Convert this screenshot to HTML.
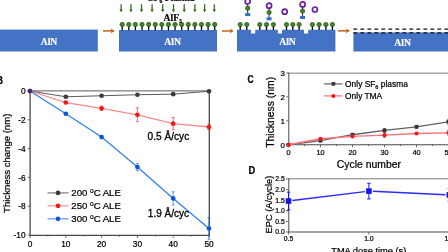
<!DOCTYPE html><html><head><meta charset="utf-8"><title>AlN ALE figure</title>
<style>html,body{margin:0;padding:0;background:#fff;}body{width:448px;height:252px;overflow:hidden;}svg{display:block;}text{font-family:"Liberation Sans",sans-serif;fill:#000;stroke:#000;stroke-width:0.22px;}.ser{font-family:"Liberation Serif",serif;font-weight:bold;}.tk{font-size:8.3px;}</style></head><body>
<svg width="448" height="252" viewBox="0 0 448 252">
<rect width="448" height="252" fill="#fff"/>
<rect x="0" y="29.6" width="97.80" height="21.90" fill="#4472c4"/>
<text class="ser" x="49.0" y="44.5" font-size="9.7" text-anchor="middle" style="fill:#fff;stroke:#fff;stroke-width:0.15px">AlN</text>
<path d="M103 30.9H112.6" stroke="#c55a11" stroke-width="1.45" fill="none"/>
<path d="M114.89999999999999 30.9l-4.2 -2.35l1 2.35l-1 2.35z" fill="#c55a11"/>
<rect x="119" y="30" width="98.00" height="21.50" fill="#4472c4"/>
<text class="ser" x="172.7" y="44.5" font-size="9.7" text-anchor="middle" style="fill:#fff;stroke:#fff;stroke-width:0.15px">AlN</text>
<path d="M122.20 26.0V30.3" stroke="#000" stroke-width="1.3"/>
<circle cx="122.20" cy="24.5" r="2.15" fill="#44862a" stroke="#1f4a10" stroke-width="0.7"/>
<path d="M128.81 26.0V30.3" stroke="#000" stroke-width="1.3"/>
<circle cx="128.81" cy="24.5" r="2.15" fill="#44862a" stroke="#1f4a10" stroke-width="0.7"/>
<path d="M135.41 26.0V30.3" stroke="#000" stroke-width="1.3"/>
<circle cx="135.41" cy="24.5" r="2.15" fill="#44862a" stroke="#1f4a10" stroke-width="0.7"/>
<path d="M142.02 26.0V30.3" stroke="#000" stroke-width="1.3"/>
<circle cx="142.02" cy="24.5" r="2.15" fill="#44862a" stroke="#1f4a10" stroke-width="0.7"/>
<path d="M148.63 26.0V30.3" stroke="#000" stroke-width="1.3"/>
<circle cx="148.63" cy="24.5" r="2.15" fill="#44862a" stroke="#1f4a10" stroke-width="0.7"/>
<path d="M155.24 26.0V30.3" stroke="#000" stroke-width="1.3"/>
<circle cx="155.24" cy="24.5" r="2.15" fill="#44862a" stroke="#1f4a10" stroke-width="0.7"/>
<path d="M161.84 26.0V30.3" stroke="#000" stroke-width="1.3"/>
<circle cx="161.84" cy="24.5" r="2.15" fill="#44862a" stroke="#1f4a10" stroke-width="0.7"/>
<path d="M168.45 26.0V30.3" stroke="#000" stroke-width="1.3"/>
<circle cx="168.45" cy="24.5" r="2.15" fill="#44862a" stroke="#1f4a10" stroke-width="0.7"/>
<path d="M175.06 26.0V30.3" stroke="#000" stroke-width="1.3"/>
<circle cx="175.06" cy="24.5" r="2.15" fill="#44862a" stroke="#1f4a10" stroke-width="0.7"/>
<path d="M181.66 26.0V30.3" stroke="#000" stroke-width="1.3"/>
<circle cx="181.66" cy="24.5" r="2.15" fill="#44862a" stroke="#1f4a10" stroke-width="0.7"/>
<path d="M188.27 26.0V30.3" stroke="#000" stroke-width="1.3"/>
<circle cx="188.27" cy="24.5" r="2.15" fill="#44862a" stroke="#1f4a10" stroke-width="0.7"/>
<path d="M194.88 26.0V30.3" stroke="#000" stroke-width="1.3"/>
<circle cx="194.88" cy="24.5" r="2.15" fill="#44862a" stroke="#1f4a10" stroke-width="0.7"/>
<path d="M201.48 26.0V30.3" stroke="#000" stroke-width="1.3"/>
<circle cx="201.48" cy="24.5" r="2.15" fill="#44862a" stroke="#1f4a10" stroke-width="0.7"/>
<path d="M208.09 26.0V30.3" stroke="#000" stroke-width="1.3"/>
<circle cx="208.09" cy="24.5" r="2.15" fill="#44862a" stroke="#1f4a10" stroke-width="0.7"/>
<path d="M214.70 26.0V30.3" stroke="#000" stroke-width="1.3"/>
<circle cx="214.70" cy="24.5" r="2.15" fill="#44862a" stroke="#1f4a10" stroke-width="0.7"/>
<path d="M121.10 4.2V10.5" stroke="#2f6e1a" stroke-width="1.3"/>
<path d="M121.10 12.3l-1.75 -2.9h3.5z" fill="#2f6e1a"/>
<path d="M131.00 4.2V10.5" stroke="#2f6e1a" stroke-width="1.3"/>
<path d="M131.00 12.3l-1.75 -2.9h3.5z" fill="#2f6e1a"/>
<path d="M141.50 4.2V10.5" stroke="#2f6e1a" stroke-width="1.3"/>
<path d="M141.50 12.3l-1.75 -2.9h3.5z" fill="#2f6e1a"/>
<path d="M152.10 4.2V10.5" stroke="#2f6e1a" stroke-width="1.3"/>
<path d="M152.10 12.3l-1.75 -2.9h3.5z" fill="#2f6e1a"/>
<path d="M162.70 4.2V10.5" stroke="#2f6e1a" stroke-width="1.3"/>
<path d="M162.70 12.3l-1.75 -2.9h3.5z" fill="#2f6e1a"/>
<path d="M173.50 4.2V10.5" stroke="#2f6e1a" stroke-width="1.3"/>
<path d="M173.50 12.3l-1.75 -2.9h3.5z" fill="#2f6e1a"/>
<path d="M184.20 4.2V10.5" stroke="#2f6e1a" stroke-width="1.3"/>
<path d="M184.20 12.3l-1.75 -2.9h3.5z" fill="#2f6e1a"/>
<path d="M194.90 4.2V10.5" stroke="#2f6e1a" stroke-width="1.3"/>
<path d="M194.90 12.3l-1.75 -2.9h3.5z" fill="#2f6e1a"/>
<path d="M204.60 4.2V10.5" stroke="#2f6e1a" stroke-width="1.3"/>
<path d="M204.60 12.3l-1.75 -2.9h3.5z" fill="#2f6e1a"/>
<path d="M214.30 4.2V10.5" stroke="#2f6e1a" stroke-width="1.3"/>
<path d="M214.30 12.3l-1.75 -2.9h3.5z" fill="#2f6e1a"/>
<text class="ser" x="172.7" y="20.7" font-size="9.6" text-anchor="middle" style="stroke-width:0.2px">AlF<tspan font-size="5.6" dy="2">3</tspan></text>
<text class="ser" x="171.4" y="1.1" font-size="9.6" text-anchor="middle">SF<tspan font-size="5.6" dy="2">6</tspan><tspan dy="-2"> Plasma</tspan></text>
<path d="M222 31.0H231.6" stroke="#c55a11" stroke-width="1.45" fill="none"/>
<path d="M233.9 31.0l-4.2 -2.35l1 2.35l-1 2.35z" fill="#c55a11"/>
<path d="M237 29.8H251V33.4H255.2V29.8H277.8V33.4H282V29.8H304V33.4H308.2V29.8H335.4V51.5H237z" fill="#4472c4"/>
<text class="ser" x="287.5" y="44.5" font-size="9.7" text-anchor="middle" style="fill:#fff;stroke:#fff;stroke-width:0.15px">AlN</text>
<path d="M240.20 26.05V30.1" stroke="#000" stroke-width="1.3"/>
<circle cx="240.20" cy="24.55" r="2.15" fill="#44862a" stroke="#1f4a10" stroke-width="0.7"/>
<path d="M246.80 26.05V30.1" stroke="#000" stroke-width="1.3"/>
<circle cx="246.80" cy="24.55" r="2.15" fill="#44862a" stroke="#1f4a10" stroke-width="0.7"/>
<path d="M259.80 26.05V30.1" stroke="#000" stroke-width="1.3"/>
<circle cx="259.80" cy="24.55" r="2.15" fill="#44862a" stroke="#1f4a10" stroke-width="0.7"/>
<path d="M266.50 26.05V30.1" stroke="#000" stroke-width="1.3"/>
<circle cx="266.50" cy="24.55" r="2.15" fill="#44862a" stroke="#1f4a10" stroke-width="0.7"/>
<path d="M273.40 26.05V30.1" stroke="#000" stroke-width="1.3"/>
<circle cx="273.40" cy="24.55" r="2.15" fill="#44862a" stroke="#1f4a10" stroke-width="0.7"/>
<path d="M286.50 26.05V30.1" stroke="#000" stroke-width="1.3"/>
<circle cx="286.50" cy="24.55" r="2.15" fill="#44862a" stroke="#1f4a10" stroke-width="0.7"/>
<path d="M292.80 26.05V30.1" stroke="#000" stroke-width="1.3"/>
<circle cx="292.80" cy="24.55" r="2.15" fill="#44862a" stroke="#1f4a10" stroke-width="0.7"/>
<path d="M299.10 26.05V30.1" stroke="#000" stroke-width="1.3"/>
<circle cx="299.10" cy="24.55" r="2.15" fill="#44862a" stroke="#1f4a10" stroke-width="0.7"/>
<path d="M312.40 26.05V30.1" stroke="#000" stroke-width="1.3"/>
<circle cx="312.40" cy="24.55" r="2.15" fill="#44862a" stroke="#1f4a10" stroke-width="0.7"/>
<path d="M319.10 26.05V30.1" stroke="#000" stroke-width="1.3"/>
<circle cx="319.10" cy="24.55" r="2.15" fill="#44862a" stroke="#1f4a10" stroke-width="0.7"/>
<path d="M325.90 26.05V30.1" stroke="#000" stroke-width="1.3"/>
<circle cx="325.90" cy="24.55" r="2.15" fill="#44862a" stroke="#1f4a10" stroke-width="0.7"/>
<path d="M332.40 26.05V30.1" stroke="#000" stroke-width="1.3"/>
<circle cx="332.40" cy="24.55" r="2.15" fill="#44862a" stroke="#1f4a10" stroke-width="0.7"/>
<path d="M247.7 3.5V13.5" stroke="#111" stroke-width="0.9"/>
<rect x="245.2" y="13.1" width="5" height="3" fill="#2f6fd0"/>
<circle cx="247.7" cy="8.2" r="2.15" fill="#44862a" stroke="#1f4a10" stroke-width="0.7"/>
<circle cx="247.7" cy="1.5" r="2.5" fill="#fff" stroke="#6a1fa0" stroke-width="1.7"/>
<path d="M269.1 7.7V17.7" stroke="#111" stroke-width="0.9"/>
<rect x="266.6" y="17.3" width="5" height="3" fill="#2f6fd0"/>
<circle cx="269.1" cy="12.4" r="2.15" fill="#44862a" stroke="#1f4a10" stroke-width="0.7"/>
<circle cx="269.1" cy="5.7" r="2.5" fill="#fff" stroke="#6a1fa0" stroke-width="1.7"/>
<path d="M302.6 6.4V16.4" stroke="#111" stroke-width="0.9"/>
<rect x="300.1" y="16.0" width="5" height="3" fill="#2f6fd0"/>
<circle cx="302.6" cy="11.100000000000001" r="2.15" fill="#44862a" stroke="#1f4a10" stroke-width="0.7"/>
<circle cx="302.6" cy="4.4" r="2.5" fill="#fff" stroke="#6a1fa0" stroke-width="1.7"/>
<circle cx="284.7" cy="11.7" r="2.5" fill="#fff" stroke="#6a1fa0" stroke-width="1.7"/>
<circle cx="314.9" cy="9.5" r="2.5" fill="#fff" stroke="#6a1fa0" stroke-width="1.7"/>
<path d="M338 30.85H347.7" stroke="#c55a11" stroke-width="1.45" fill="none"/>
<path d="M350.0 30.85l-4.2 -2.35l1 2.35l-1 2.35z" fill="#c55a11"/>
<rect x="353.4" y="32.4" width="94.60" height="19.10" fill="#4472c4"/>
<text class="ser" x="402.6" y="45.7" font-size="9.7" text-anchor="middle" style="fill:#fff;stroke:#fff;stroke-width:0.15px">AlN</text>
<path d="M353.4 29.15H448M353.4 32.9H448" stroke="#111" stroke-width="1.15" stroke-dasharray="3.8 3.2" fill="none"/>
<path d="M30.1 90.9H209.3" stroke="#484848" stroke-width="0.9" fill="none"/>
<path d="M209.3 90.5V235.3H30.1V90.5" stroke="#4a4a4a" stroke-width="1.3" fill="none"/>
<path d="M30.00 235.00L30.00 238.00" stroke="#4a4a4a" stroke-width="0.8" fill="none"/>
<text class="tk" x="30.00" y="247" text-anchor="middle">0</text>
<path d="M47.90 235.00L47.90 236.60" stroke="#4a4a4a" stroke-width="0.8" fill="none"/>
<path d="M65.80 235.00L65.80 238.00" stroke="#4a4a4a" stroke-width="0.8" fill="none"/>
<text class="tk" x="65.80" y="247" text-anchor="middle">10</text>
<path d="M83.70 235.00L83.70 236.60" stroke="#4a4a4a" stroke-width="0.8" fill="none"/>
<path d="M101.60 235.00L101.60 238.00" stroke="#4a4a4a" stroke-width="0.8" fill="none"/>
<text class="tk" x="101.60" y="247" text-anchor="middle">20</text>
<path d="M119.50 235.00L119.50 236.60" stroke="#4a4a4a" stroke-width="0.8" fill="none"/>
<path d="M137.40 235.00L137.40 238.00" stroke="#4a4a4a" stroke-width="0.8" fill="none"/>
<text class="tk" x="137.40" y="247" text-anchor="middle">30</text>
<path d="M155.30 235.00L155.30 236.60" stroke="#4a4a4a" stroke-width="0.8" fill="none"/>
<path d="M173.20 235.00L173.20 238.00" stroke="#4a4a4a" stroke-width="0.8" fill="none"/>
<text class="tk" x="173.20" y="247" text-anchor="middle">40</text>
<path d="M191.10 235.00L191.10 236.60" stroke="#4a4a4a" stroke-width="0.8" fill="none"/>
<path d="M209.00 235.00L209.00 238.00" stroke="#4a4a4a" stroke-width="0.8" fill="none"/>
<text class="tk" x="209.00" y="247" text-anchor="middle">50</text>
<path d="M27.80 91.00L30.00 91.00" stroke="#4a4a4a" stroke-width="0.9" fill="none"/>
<text class="tk" x="25.6" y="94.15" text-anchor="end">0</text>
<path d="M27.80 119.80L30.00 119.80" stroke="#4a4a4a" stroke-width="0.9" fill="none"/>
<text class="tk" x="25.6" y="122.95" text-anchor="end">-2</text>
<path d="M27.80 148.60L30.00 148.60" stroke="#4a4a4a" stroke-width="0.9" fill="none"/>
<text class="tk" x="25.6" y="151.75" text-anchor="end">-4</text>
<path d="M27.80 177.40L30.00 177.40" stroke="#4a4a4a" stroke-width="0.9" fill="none"/>
<text class="tk" x="25.6" y="180.55" text-anchor="end">-6</text>
<path d="M27.80 206.20L30.00 206.20" stroke="#4a4a4a" stroke-width="0.9" fill="none"/>
<text class="tk" x="25.6" y="209.35" text-anchor="end">-8</text>
<path d="M27.80 235.00L30.00 235.00" stroke="#4a4a4a" stroke-width="0.9" fill="none"/>
<text class="tk" x="25.6" y="238.15" text-anchor="end">-10</text>
<text x="0" y="0" font-size="9.55" text-anchor="middle" transform="translate(10.4,163.3) rotate(-90)">Thickness change (nm)</text>
<path d="M30.00 91.00L65.80 96.76L101.60 95.75L137.40 94.74L173.20 94.17L209.00 91.29" stroke="#5a5a5a" stroke-width="1.0" fill="none"/>
<circle cx="30.00" cy="91.00" r="2.35" fill="#3a3a3a"/>
<circle cx="65.80" cy="96.76" r="2.35" fill="#3a3a3a"/>
<circle cx="101.60" cy="95.75" r="2.35" fill="#3a3a3a"/>
<circle cx="137.40" cy="94.74" r="2.35" fill="#3a3a3a"/>
<circle cx="173.20" cy="94.17" r="2.35" fill="#3a3a3a"/>
<circle cx="209.00" cy="91.29" r="2.35" fill="#3a3a3a"/>
<path d="M30.00 91.00L65.80 102.52L101.60 108.28L137.40 114.76L173.20 123.69L209.00 127.00" stroke="#ff8a8a" stroke-width="1.28" fill="none"/>
<circle cx="30.00" cy="91.00" r="2.35" fill="#f01818"/>
<path d="M65.80 101.37V103.67M64.30 101.37h3M64.30 103.67h3" stroke="#f01818" stroke-width="0.6" fill="none"/>
<circle cx="65.80" cy="102.52" r="2.35" fill="#f01818"/>
<path d="M101.60 106.12V110.44M100.10 106.12h3M100.10 110.44h3" stroke="#f01818" stroke-width="0.6" fill="none"/>
<circle cx="101.60" cy="108.28" r="2.35" fill="#f01818"/>
<path d="M137.40 107.85V121.67M135.90 107.85h3M135.90 121.67h3" stroke="#f01818" stroke-width="0.6" fill="none"/>
<circle cx="137.40" cy="114.76" r="2.35" fill="#f01818"/>
<path d="M173.20 117.64V129.74M171.70 117.64h3M171.70 129.74h3" stroke="#f01818" stroke-width="0.6" fill="none"/>
<circle cx="173.20" cy="123.69" r="2.35" fill="#f01818"/>
<path d="M209.00 124.12V129.88M207.50 124.12h3M207.50 129.88h3" stroke="#f01818" stroke-width="0.6" fill="none"/>
<circle cx="209.00" cy="127.00" r="2.35" fill="#f01818"/>
<path d="M30.00 91.00L65.80 113.75L101.60 137.08L137.40 167.03L173.20 198.42L209.00 228.52" stroke="#2f80ee" stroke-width="1.28" fill="none"/>
<circle cx="30.00" cy="91.00" r="2.35" fill="#0a55d8"/>
<path d="M65.80 113.03V114.47M64.30 113.03h3M64.30 114.47h3" stroke="#0a55d8" stroke-width="0.6" fill="none"/>
<circle cx="65.80" cy="113.75" r="2.35" fill="#0a55d8"/>
<path d="M101.60 135.64V138.52M100.10 135.64h3M100.10 138.52h3" stroke="#0a55d8" stroke-width="0.6" fill="none"/>
<circle cx="101.60" cy="137.08" r="2.35" fill="#0a55d8"/>
<path d="M137.40 163.43V170.63M135.90 163.43h3M135.90 170.63h3" stroke="#0a55d8" stroke-width="0.6" fill="none"/>
<circle cx="137.40" cy="167.03" r="2.35" fill="#0a55d8"/>
<path d="M173.20 191.80V205.05M171.70 191.80h3M171.70 205.05h3" stroke="#0a55d8" stroke-width="0.6" fill="none"/>
<circle cx="173.20" cy="198.42" r="2.35" fill="#0a55d8"/>
<path d="M209.00 217.72V239.32M207.50 217.72h3M207.50 239.32h3" stroke="#0a55d8" stroke-width="0.6" fill="none"/>
<circle cx="209.00" cy="228.52" r="2.35" fill="#0a55d8"/>
<circle cx="30.00" cy="91.00" r="1.7" fill="#7a1238"/>
<path d="M47.50 192.90L68.50 192.90" stroke="#8a8a8a" stroke-width="1.35" fill="none"/>
<circle cx="58" cy="192.90" r="2.35" fill="#3a3a3a"/>
<text x="71.3" y="196.20" font-size="9.6">200 <tspan font-size="6.6" dy="-3.2">o</tspan><tspan dy="3.2">C ALE</tspan></text>
<path d="M47.50 205.85L68.50 205.85" stroke="#ff9c9c" stroke-width="1.35" fill="none"/>
<circle cx="58" cy="205.85" r="2.35" fill="#f01818"/>
<text x="71.3" y="209.15" font-size="9.6">250 <tspan font-size="6.6" dy="-3.2">o</tspan><tspan dy="3.2">C ALE</tspan></text>
<path d="M47.50 218.80L68.50 218.80" stroke="#6aa4f4" stroke-width="1.35" fill="none"/>
<circle cx="58" cy="218.80" r="2.35" fill="#0a55d8"/>
<text x="71.3" y="222.10" font-size="9.6">300 <tspan font-size="6.6" dy="-3.2">o</tspan><tspan dy="3.2">C ALE</tspan></text>
<text x="147.6" y="139.7" font-size="10.15" style="stroke-width:0.3px">0.5 Å/cyc</text>
<text x="147.8" y="216.7" font-size="10.05" style="stroke-width:0.3px">1.9 Å/cyc</text>
<text transform="translate(-3.5,83.8) scale(0.87,1)" font-size="10.4" font-weight="bold">B</text>
<path d="M288.5 73.15H449" stroke="#6a6a6a" stroke-width="0.9" fill="none"/>
<path d="M288.8 72.7V144.75" stroke="#4a4a4a" stroke-width="1.0" fill="none"/>
<path d="M288.3 144.75H449" stroke="#4a4a4a" stroke-width="1.15" fill="none"/>
<path d="M288.50 144.75L288.50 147.35" stroke="#4a4a4a" stroke-width="0.8" fill="none"/>
<text font-size="7.3" x="288.50" y="154.9" text-anchor="middle">0</text>
<path d="M304.50 144.75L304.50 146.15" stroke="#4a4a4a" stroke-width="0.8" fill="none"/>
<path d="M320.50 144.75L320.50 147.35" stroke="#4a4a4a" stroke-width="0.8" fill="none"/>
<text font-size="7.3" x="320.50" y="154.9" text-anchor="middle">10</text>
<path d="M336.50 144.75L336.50 146.15" stroke="#4a4a4a" stroke-width="0.8" fill="none"/>
<path d="M352.50 144.75L352.50 147.35" stroke="#4a4a4a" stroke-width="0.8" fill="none"/>
<text font-size="7.3" x="352.50" y="154.9" text-anchor="middle">20</text>
<path d="M368.50 144.75L368.50 146.15" stroke="#4a4a4a" stroke-width="0.8" fill="none"/>
<path d="M384.50 144.75L384.50 147.35" stroke="#4a4a4a" stroke-width="0.8" fill="none"/>
<text font-size="7.3" x="384.50" y="154.9" text-anchor="middle">30</text>
<path d="M400.50 144.75L400.50 146.15" stroke="#4a4a4a" stroke-width="0.8" fill="none"/>
<path d="M416.50 144.75L416.50 147.35" stroke="#4a4a4a" stroke-width="0.8" fill="none"/>
<text font-size="7.3" x="416.50" y="154.9" text-anchor="middle">40</text>
<path d="M432.50 144.75L432.50 146.15" stroke="#4a4a4a" stroke-width="0.8" fill="none"/>
<path d="M448.50 144.75L448.50 147.35" stroke="#4a4a4a" stroke-width="0.8" fill="none"/>
<text font-size="7.3" x="448.50" y="154.9" text-anchor="middle">50</text>
<path d="M286.30 144.75L288.50 144.75" stroke="#4a4a4a" stroke-width="0.9" fill="none"/>
<text font-size="7.9" x="284.8" y="147.65" text-anchor="end">0</text>
<path d="M286.30 120.83L288.50 120.83" stroke="#4a4a4a" stroke-width="0.9" fill="none"/>
<text font-size="7.9" x="284.8" y="123.73" text-anchor="end">1</text>
<path d="M286.30 96.92L288.50 96.92" stroke="#4a4a4a" stroke-width="0.9" fill="none"/>
<text font-size="7.9" x="284.8" y="99.82" text-anchor="end">2</text>
<path d="M286.30 73.00L288.50 73.00" stroke="#4a4a4a" stroke-width="0.9" fill="none"/>
<text font-size="7.9" x="284.8" y="75.90" text-anchor="end">3</text>
<text x="0" y="0" font-size="10.4" text-anchor="middle" transform="translate(273.9,112.3) rotate(-90)">Thickness (nm)</text>
<text x="368.9" y="167.6" font-size="10.4" text-anchor="middle">Cycle number</text>
<path d="M288.50 144.75L320.50 140.68L352.50 134.71L384.50 130.40L416.50 126.81L448.50 121.79" stroke="#606060" stroke-width="1.35" fill="none"/>
<rect x="286.60" y="142.85" width="3.8" height="3.8" fill="#333"/>
<rect x="318.60" y="138.78" width="3.8" height="3.8" fill="#333"/>
<rect x="350.60" y="132.81" width="3.8" height="3.8" fill="#333"/>
<path d="M384.50 128.49V132.31M383.20 128.49h2.6M383.20 132.31h2.6" stroke="#333" stroke-width="0.6" fill="none"/>
<rect x="382.60" y="128.50" width="3.8" height="3.8" fill="#333"/>
<path d="M416.50 125.38V128.25M415.20 125.38h2.6M415.20 128.25h2.6" stroke="#333" stroke-width="0.6" fill="none"/>
<rect x="414.60" y="124.91" width="3.8" height="3.8" fill="#333"/>
<path d="M448.50 119.40V124.18M447.20 119.40h2.6M447.20 124.18h2.6" stroke="#333" stroke-width="0.6" fill="none"/>
<rect x="446.60" y="119.89" width="3.8" height="3.8" fill="#333"/>
<path d="M288.50 144.75L320.50 138.77L352.50 136.38L384.50 135.18L416.50 133.51L448.50 132.79" stroke="#ff7078" stroke-width="1.35" fill="none"/>
<circle cx="288.50" cy="144.75" r="2.1" fill="#f01818"/>
<path d="M320.50 137.81V139.73M319.20 137.81h2.6M319.20 139.73h2.6" stroke="#f01818" stroke-width="0.6" fill="none"/>
<circle cx="320.50" cy="138.77" r="2.1" fill="#f01818"/>
<path d="M352.50 135.42V137.34M351.20 135.42h2.6M351.20 137.34h2.6" stroke="#f01818" stroke-width="0.6" fill="none"/>
<circle cx="352.50" cy="136.38" r="2.1" fill="#f01818"/>
<path d="M384.50 132.79V137.57M383.20 132.79h2.6M383.20 137.57h2.6" stroke="#f01818" stroke-width="0.6" fill="none"/>
<circle cx="384.50" cy="135.18" r="2.1" fill="#f01818"/>
<path d="M416.50 132.55V134.47M415.20 132.55h2.6M415.20 134.47h2.6" stroke="#f01818" stroke-width="0.6" fill="none"/>
<circle cx="416.50" cy="133.51" r="2.1" fill="#f01818"/>
<path d="M448.50 130.40V135.18M447.20 130.40h2.6M447.20 135.18h2.6" stroke="#f01818" stroke-width="0.6" fill="none"/>
<circle cx="448.50" cy="132.79" r="2.1" fill="#f01818"/>
<path d="M324.00 83.90L342.60 83.90" stroke="#7a7a7a" stroke-width="1.4" fill="none"/>
<rect x="331.6" y="82.1" width="3.6" height="3.6" fill="#333"/>
<path d="M324.00 95.90L342.60 95.90" stroke="#ff8088" stroke-width="1.4" fill="none"/>
<circle cx="333.4" cy="95.9" r="2" fill="#f01818"/>
<text x="345.1" y="86.9" font-size="8.4">Only SF<tspan font-size="5.6" dy="1.6">6</tspan><tspan dy="-1.6"> plasma</tspan></text>
<text x="345.1" y="98.9" font-size="8.4">Only TMA</text>
<text transform="translate(247.4,83.0) scale(0.82,1)" font-size="10.3" font-weight="bold">C</text>
<path d="M288.5 178.8H449" stroke="#6a6a6a" stroke-width="0.9" fill="none"/>
<path d="M288.8 178.4V232.0" stroke="#4a4a4a" stroke-width="1.0" fill="none"/>
<path d="M288.3 232.0H449" stroke="#4a4a4a" stroke-width="1.15" fill="none"/>
<path d="M285.90 232.00L288.50 232.00" stroke="#4a4a4a" stroke-width="0.8" fill="none"/>
<text font-size="6.8" x="284.8" y="234.40" text-anchor="end">0.0</text>
<path d="M285.90 221.40L288.50 221.40" stroke="#4a4a4a" stroke-width="0.8" fill="none"/>
<text font-size="6.8" x="284.8" y="223.80" text-anchor="end">0.5</text>
<path d="M285.90 210.80L288.50 210.80" stroke="#4a4a4a" stroke-width="0.8" fill="none"/>
<text font-size="6.8" x="284.8" y="213.20" text-anchor="end">1.0</text>
<path d="M285.90 200.20L288.50 200.20" stroke="#4a4a4a" stroke-width="0.8" fill="none"/>
<text font-size="6.8" x="284.8" y="202.60" text-anchor="end">1.5</text>
<path d="M285.90 189.60L288.50 189.60" stroke="#4a4a4a" stroke-width="0.8" fill="none"/>
<text font-size="6.8" x="284.8" y="192.00" text-anchor="end">2.0</text>
<path d="M285.90 179.00L288.50 179.00" stroke="#4a4a4a" stroke-width="0.8" fill="none"/>
<text font-size="6.8" x="284.8" y="181.40" text-anchor="end">2.5</text>
<path d="M288.50 232.00L288.50 234.60" stroke="#4a4a4a" stroke-width="0.8" fill="none"/>
<text font-size="6.8" x="288.50" y="241.1" text-anchor="middle">0.5</text>
<path d="M368.90 232.00L368.90 234.60" stroke="#4a4a4a" stroke-width="0.8" fill="none"/>
<text font-size="6.8" x="368.90" y="241.1" text-anchor="middle">1.0</text>
<path d="M449.30 232.00L449.30 234.60" stroke="#4a4a4a" stroke-width="0.8" fill="none"/>
<text font-size="6.8" x="449.30" y="241.1" text-anchor="middle">1.5</text>
<text x="0" y="0" font-size="9.3" text-anchor="middle" transform="translate(272.3,204.6) rotate(-90)">EPC (A/cycle)</text>
<text x="368.8" y="253.9" font-size="9.25" text-anchor="middle">TMA dose time (s)</text>
<path d="M292.47 200.56L364.93 191.58" stroke="#2a2aff" stroke-width="1.4" fill="none"/>
<path d="M372.90 191.27L445.30 194.71" stroke="#2a2aff" stroke-width="1.4" fill="none"/>
<path d="M288.50 192.14V209.95M286.80 192.14h3.4M286.80 209.95h3.4" stroke="#1414f5" stroke-width="1" fill="none"/>
<rect x="285.70" y="198.25" width="5.6" height="5.6" fill="#1414f5"/>
<path d="M368.90 183.24V198.93M367.20 183.24h3.4M367.20 198.93h3.4" stroke="#1414f5" stroke-width="1" fill="none"/>
<rect x="366.10" y="188.28" width="5.6" height="5.6" fill="#1414f5"/>
<path d="M449.30 188.54V201.26M447.60 188.54h3.4M447.60 201.26h3.4" stroke="#1414f5" stroke-width="1" fill="none"/>
<rect x="446.50" y="192.10" width="5.6" height="5.6" fill="#1414f5"/>
<text transform="translate(248.4,173.9) scale(0.9,1)" font-size="10.3" font-weight="bold">D</text>
</svg></body></html>
